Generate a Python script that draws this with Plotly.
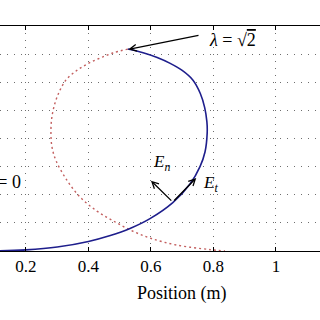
import plotly.graph_objects as go

# Solid branch (blue)
blue_x = [0.0, 0.1, 0.2, 0.3, 0.4, 0.47, 0.533, 0.597, 0.67, 0.725, 0.757, 0.773, 0.780, 0.779, 0.772, 0.758, 0.734, 0.70, 0.66, 0.62, 0.575, 0.526]
blue_y = [0.0, 0.0, 0.004, 0.014, 0.034, 0.055, 0.080, 0.115, 0.172, 0.238, 0.300, 0.352, 0.420, 0.460, 0.510, 0.560, 0.608, 0.642, 0.668, 0.688, 0.705, 0.718]

# Dotted branch (red)
red_x = [0.526, 0.478, 0.437, 0.398, 0.363, 0.331, 0.309, 0.293, 0.283, 0.280, 0.283, 0.296, 0.331, 0.373, 0.427, 0.478, 0.533, 0.597, 0.683, 0.789, 0.837]
red_y = [0.718, 0.704, 0.686, 0.666, 0.642, 0.612, 0.572, 0.526, 0.476, 0.428, 0.372, 0.322, 0.252, 0.192, 0.142, 0.108, 0.075, 0.046, 0.021, 0.005, 0.0]

x_ticks = [0.2, 0.4, 0.6, 0.8, 1.0]
x_ticklabels = ["0.2", "0.4", "0.6", "0.8", "1"]

SERIF = "Liberation Serif"

fig = go.Figure()
fig.add_trace(go.Scatter(x=red_x, y=red_y, mode="lines", line=dict(color="rgb(195,95,95)", width=1.4, dash="2px,3px", shape="spline"), showlegend=False))
fig.add_trace(go.Scatter(x=blue_x, y=blue_y, mode="lines", line=dict(color="rgb(30,30,140)", width=1.6, shape="spline"), showlegend=False))

grid = dict(showgrid=True, gridcolor="rgb(110,110,110)", gridwidth=1, griddash="1px,6px")

fig.update_xaxes(range=[0.117, 1.141], tickvals=x_ticks, ticktext=x_ticklabels,
                 showline=True, linecolor="black", linewidth=1, mirror="ticks",
                 ticks="inside", ticklen=4, tickcolor="black", zeroline=False,
                 tickfont=dict(family=SERIF, size=17, color="black"), **grid)
fig.update_yaxes(range=[0, 0.8], dtick=0.1, showline=False, showticklabels=False,
                 ticks="", zeroline=False, **grid)

ann = []
# lambda = sqrt(2) arrow
ann.append(dict(x=0.528, y=0.717, ax=0.757, ay=0.768, xref="x", yref="y", axref="x", ayref="y",
                text="", showarrow=True, arrowhead=5, arrowsize=1, arrowwidth=1.3, arrowcolor="black"))
ann.append(dict(x=0.862, y=0.752, xref="x", yref="y",
                text="<i>λ</i> = √<span style='text-decoration:overline'>2</span>", showarrow=False,
                font=dict(family=SERIF, size=18, color="black")))
# lambda = 0 label (cropped)
ann.append(dict(x=0.190, y=0.245, xref="x", yref="y", text="<i>λ</i> = 0", showarrow=False, xanchor="right",
                font=dict(family=SERIF, size=18, color="black")))
# E_n vector
ann.append(dict(x=0.600, y=0.250, ax=0.670, ay=0.174, xref="x", yref="y", axref="x", ayref="y",
                text="", showarrow=True, arrowhead=5, arrowsize=1, arrowwidth=1.3, arrowcolor="black"))
ann.append(dict(x=0.635, y=0.313, xref="x", yref="y", text="<i>E</i><sub><i>n</i></sub>", showarrow=False,
                font=dict(family=SERIF, size=17, color="black")))
# E_t vector
ann.append(dict(x=0.745, y=0.260, ax=0.670, ay=0.174, xref="x", yref="y", axref="x", ayref="y",
                text="", showarrow=True, arrowhead=5, arrowsize=1, arrowwidth=1.3, arrowcolor="black"))
ann.append(dict(x=0.792, y=0.238, xref="x", yref="y", text="<i>E</i><sub><i>t</i></sub>", showarrow=False,
                font=dict(family=SERIF, size=17, color="black")))
# axis title
ann.append(dict(x=182/320, y=-0.187, xref="paper", yref="paper", text="Position (m)", showarrow=False,
                font=dict(family=SERIF, size=18, color="black"), yanchor="middle"))

fig.update_layout(width=320, height=320, margin=dict(l=0, r=0, t=26, b=69),
                  paper_bgcolor="white", plot_bgcolor="white", annotations=ann, showlegend=False)

fig.write_html("out.html")
